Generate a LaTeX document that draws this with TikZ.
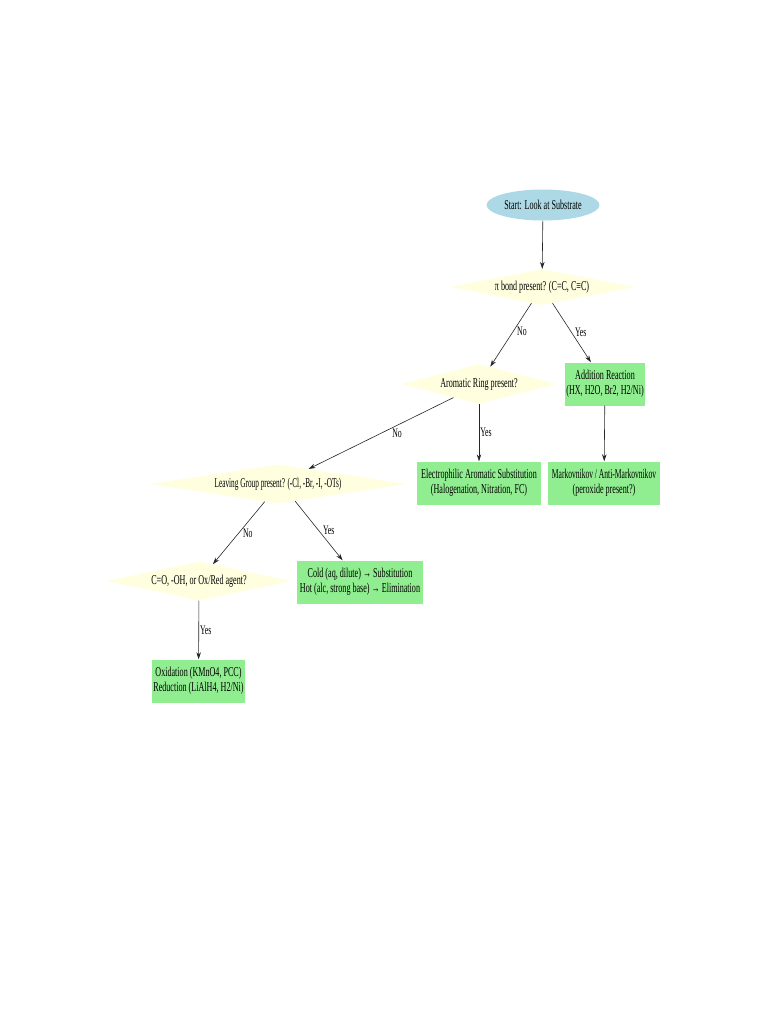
\documentclass[tikz,border=0pt]{standalone}
\usepackage{fontspec}
\setmainfont{Liberation Serif}[FakeStretch=0.6]
\usetikzlibrary{shapes.geometric,arrows.meta}

\definecolor{startblue}{HTML}{ADD8E6}
\definecolor{askyellow}{HTML}{FFFFE0}
\definecolor{ruleGreen}{HTML}{90EE90}

\begin{document}
\begin{tikzpicture}[x=1pt, y=-1pt,
		font=\fontsize{13.5}{15}\selectfont,
		start/.style={ellipse, fill=startblue, minimum width=113pt, minimum height=31pt, inner sep=0pt},
		ask/.style={diamond, fill=askyellow, inner sep=0pt, aspect=5},
		rule/.style={rectangle, fill=ruleGreen, align=center, minimum height=43pt, inner sep=0pt},
		link/.style={-{Stealth[length=7pt, width=4.5pt]}, draw=black!85, line width=0.6pt},
		lbl/.style={right, inner sep=1pt, font=\fontsize{13}{14}\selectfont}]
		\useasboundingbox (0,0) rectangle (768,1024);
		
		% start and questions
		\node[start] (look) at (543,205) {Start: Look at Substrate};
		\node[ask, minimum width=186pt, minimum height=36pt] (pibond) at (542,287) {π bond present? (C=C, C≡C)};
		\node[ask, minimum width=156pt, minimum height=40pt, aspect=4] (arom) at (479,384) {Aromatic Ring present?};
		\node[ask, minimum width=258pt, minimum height=39pt, aspect=6.5] (leave) at (278,484) {\addfontfeature{FakeStretch=0.54}Leaving Group present? (-Cl, -Br, -I, -OTs)};
		\node[ask, minimum width=186pt, minimum height=39pt] (redox) at (199,581) {C=O, -OH, or Ox/Red agent?};
		
		% outcomes
		\node[rule, minimum width=80pt] (addn) at (605,384) {Addition Reaction\\(HX, H2O, Br2, H2/Ni)};
		\node[rule, minimum width=124pt] (eas) at (479,483) {Electrophilic Aromatic Substitution\\(Halogenation, Nitration, FC)};
		\node[rule, minimum width=112pt] (markov) at (604,483) {\addfontfeature{FakeStretch=0.56}Markovnikov / Anti-Markovnikov\\(peroxide present?)};
		\node[rule, minimum width=126pt] (subel) at (360,582) {Cold (aq, dilute) → Substitution\\Hot (alc, strong base) → Elimination};
		\node[rule, minimum width=93pt] (oxred) at (198.5,681) {Oxidation (KMnO4, PCC)\\Reduction (LiAlH4, H2/Ni)};
		
		% connectors
		\draw[link] (look) -- (pibond);
		\draw[link] (pibond) -- node[lbl, pos=0.45, xshift=3pt] {No} (arom);
		\draw[link] (pibond) -- node[lbl, pos=0.5, xshift=2pt] {Yes} (addn);
		\draw[link] (arom.208) -- node[lbl, pos=0.5, xshift=10pt] {No} (leave);
		\draw[link] (arom) -- node[lbl, pos=0.5] {Yes} (eas);
		\draw[link] (addn) -- (markov);
		\draw[link] (leave.233) -- node[lbl, pos=0.5, xshift=3pt] {No} (redox);
		\draw[link] (leave.-45) -- node[lbl, pos=0.5, xshift=3pt] {Yes} (subel);
		\draw[link] (redox) -- node[lbl, pos=0.5] {Yes} (oxred);
	\end{tikzpicture}
\end{document}
